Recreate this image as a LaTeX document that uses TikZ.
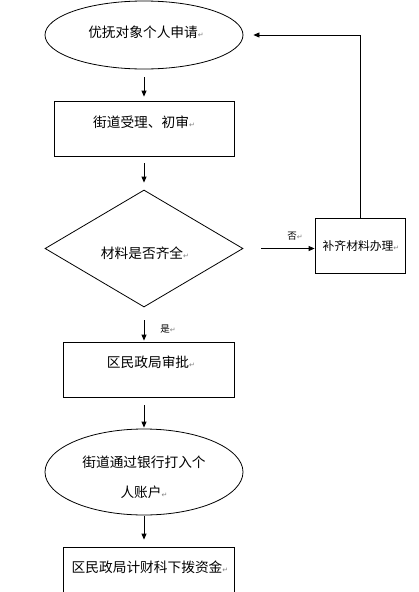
\documentclass[tikz,border=0pt]{standalone}
\usepackage{fontspec}
\usetikzlibrary{shapes.geometric,arrows.meta}
\setmainfont{Noto Sans CJK SC}
\newfontfamily\markfont{DejaVu Sans}
\newcommand{\retmark}{{\markfont\fontsize{7pt}{7pt}\selectfont\textcolor{gray}{↵}}}

\begin{document}
\begin{tikzpicture}[x=1pt,y=-1pt,
  every node/.style={inner sep=0pt},
  txt/.style={font=\fontsize{13.7pt}{16pt}\selectfont},
  small/.style={font=\fontsize{9.5pt}{12pt}\selectfont},
  roundbox/.style={draw, ellipse, minimum width=198pt},
  procbox/.style={draw, rectangle, minimum height=55pt},
  choice/.style={draw, diamond, minimum width=198pt, minimum height=117pt},
  flow/.style={-{Triangle[length=6pt,width=5pt]}, line width=0.8pt}]
\useasboundingbox (0,0) rectangle (419,592);
\clip (0,0) rectangle (419,592);
\tikzset{every path/.style={line width=0.8pt}}

\node [roundbox, minimum height=68pt] (apply) at (144,35) {};
\node [txt] (applyT) at (146,32) {优抚对象个人申请\retmark};
\node [procbox, minimum width=180pt] (accept) at (144,128.5) {};
\node [txt] (acceptT) at (144,122) {街道受理、初审\retmark};
\node [choice] (check) at (144,248.5) {};
\node [txt] (checkT) at (145,253) {材料是否齐全\retmark};
\node [procbox, minimum width=90pt] (supply) at (360,245.5) {};
\node [txt, font=\fontsize{11.8pt}{14pt}\selectfont] (supplyT) at (361,246) {补齐材料办理\retmark};
\node [procbox, minimum width=171pt] (approve) at (148.5,369.5) {};
\node [txt] (approveT) at (151,362) {区民政局审批\retmark};
\node [roundbox, minimum height=86pt] (pay) at (144,472) {};
\node [txt, align=center] (payT) at (144,477) {街道通过银行打入个\\[14pt]人账户\retmark};
\node [procbox, minimum width=171pt] (fund) at (148.5,574.5) {};
\node [txt] (fundT) at (150,567) {区民政局计财科下拨资金\retmark};

\node [small] (no) at (295,236) {否\retmark};
\node [small] (yes) at (168,329) {是\retmark};

\draw [flow, shorten <=8pt, shorten >=4pt] (apply) -- (accept);
\draw [flow, shorten <=7pt, shorten >=7pt] (accept) -- (check);
\draw [flow, shorten <=18pt] (check.east) -- (check.east -| supply.west);
\draw [flow, shorten >=10pt] (supply.north) |- (apply.east);
\draw [flow, shorten <=13pt, shorten >=1pt] (check.south) -- (check.south |- approve.north);
\draw [flow, shorten <=8pt, shorten >=1pt] (pay.north |- approve.south) -- (pay.north);
\draw [flow, shorten <=1pt, shorten >=7pt] (pay.south) -- (pay.south |- fund.north);
\end{tikzpicture}
\end{document}
